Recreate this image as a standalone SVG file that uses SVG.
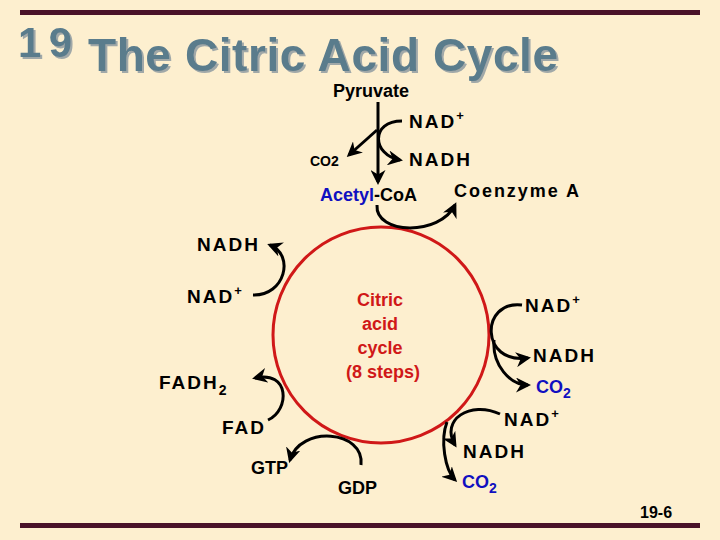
<svg xmlns="http://www.w3.org/2000/svg" width="720" height="540" viewBox="0 0 720 540">
<defs>
<marker id="ah" viewBox="0 0 10 10" refX="8" refY="5" markerWidth="5" markerHeight="5" orient="auto"><path d="M0,0 L10,5 L0,10 L3,5 z" fill="#000"/></marker>
<filter id="sh" x="-5%" y="-20%" width="115%" height="150%"><feDropShadow dx="2" dy="2" stdDeviation="0.5" flood-color="#a0a8a8"/></filter>
<style>
text{font-family:"Liberation Sans",Arial,sans-serif;font-weight:bold}
.l{font-size:19px;letter-spacing:2px;fill:#000}
.s{font-size:18px;fill:#000}
.b{fill:#1010c0}
.c{fill:none;stroke:#000;stroke-width:3}
.t{fill:#5a7c8c;filter:url(#sh)}
</style>
</defs>
<rect width="720" height="540" fill="#fdefcf"/>
<rect x="20" y="10" width="680" height="5" fill="#4a1228"/>
<rect x="20" y="523" width="680" height="5" fill="#4a1228"/>
<text x="18" y="57" class="t" font-size="42" textLength="54" fill="#4a6878">19</text>
<text x="88" y="71" class="t" font-size="46" textLength="470">The Citric Acid Cycle</text>
<g id="cycle"><circle cx="381" cy="335" r="108" fill="none" stroke="#d01818" stroke-width="3"/>
<text text-anchor="middle" font-size="18" fill="#d01818"><tspan x="380" y="306">Citric</tspan><tspan x="380" y="330">acid</tspan><tspan x="380" y="354">cycle</tspan><tspan x="383" y="378">(8 steps)</tspan></text></g>
<g id="labels">
<text x="333" y="97" class="s">Pyruvate</text>
<text x="409" y="128" class="l">NAD<tspan dy="-8" font-size="13">+</tspan></text>
<text x="310" y="166" font-size="14">CO2</text>
<text x="409" y="166" class="l">NADH</text>
<text x="320" y="201" class="s"><tspan class="b">Acetyl</tspan>-CoA</text>
<text x="454" y="197" class="s" textLength="125">Coenzyme A</text>
<text x="197" y="251" class="l">NADH</text>
<text x="187" y="303" class="l">NAD<tspan dy="-8" font-size="13">+</tspan></text>
<text x="159" y="389" class="l">FADH<tspan dy="6" font-size="14">2</tspan></text>
<text x="222" y="434" class="l">FAD</text>
<text x="251" y="474" class="s">GTP</text>
<text x="338" y="494" class="s">GDP</text>
<text x="525" y="312" class="l">NAD<tspan dy="-8" font-size="13">+</tspan></text>
<text x="533" y="362" class="l">NADH</text>
<text x="536" y="393" class="s b">CO<tspan dy="5" font-size="14">2</tspan></text>
<text x="504" y="426" class="l">NAD<tspan dy="-8" font-size="13">+</tspan></text>
<text x="463" y="458" class="l">NADH</text>
<text x="462" y="488" class="s b">CO<tspan dy="5" font-size="14">2</tspan></text>
<text x="640" y="518" font-size="16" font-weight="normal">19-6</text>
</g>
<g id="connectors">
<path class="c" d="M378,102 V182" marker-end="url(#ah)"/>
<path class="c" d="M377,130 L349,155" marker-end="url(#ah)"/>
<path class="c" d="M402,121 C370,121 372,155 400,160" marker-end="url(#ah)"/>
<path class="c" d="M377,205 C375,235 440,236 455,205" marker-end="url(#ah)"/>
<path class="c" d="M253,295 C285,296 295,255 270,245" marker-end="url(#ah)"/>
<path class="c" d="M268,420 C290,410 290,370 255,378" marker-end="url(#ah)"/>
<path class="c" d="M361,465 C365,430 300,425 290,460" marker-end="url(#ah)"/>
<path class="c" d="M522,305 C480,300 480,365 528,358" marker-end="url(#ah)"/>
<path class="c" d="M494,340 C492,365 510,385 528,385" marker-end="url(#ah)"/>
<path class="c" d="M500,414 C470,400 440,420 455,445" marker-end="url(#ah)"/>
<path class="c" d="M447,422 C440,440 445,470 455,480" marker-end="url(#ah)"/>
</g>
</svg>
